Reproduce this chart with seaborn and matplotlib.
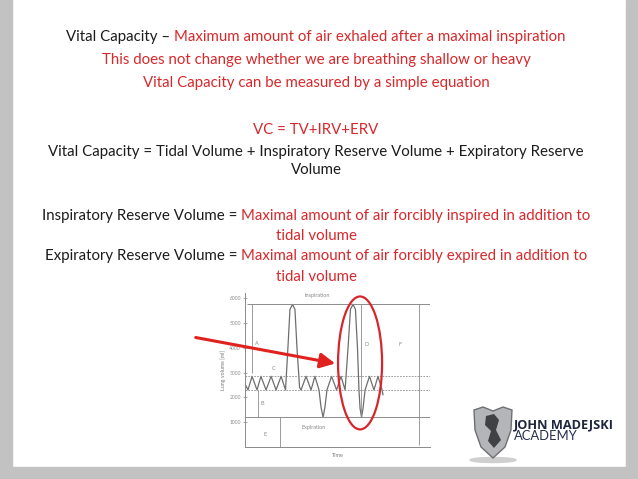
import numpy as np
import matplotlib
matplotlib.use("Agg")
import matplotlib.pyplot as plt
import pandas as pd
import seaborn as sns
from matplotlib.patches import Rectangle, Ellipse, Polygon, FancyArrowPatch

# ---- data ----
# spirometer trace (time in arbitrary units, lung volume in ml)
trace_time = [0.0, 1.6, 3.8, 6.5, 8.6, 11.4, 14.1, 16.8, 19.5, 21.9,
              23.2, 24.3, 25.7, 27.0, 28.1, 29.5,
              30.3, 33.0, 35.7, 37.8, 40.0, 41.1, 42.2, 43.2, 44.3,
              46.8, 49.5, 51.9, 54.1, 55.7, 57.0, 58.4, 59.7, 60.8,
              61.6, 62.2, 63.0, 63.8, 64.9, 67.3, 69.7, 71.9, 74.1, 74.6]
trace_volume = [2550, 2300, 2850, 2300, 2850, 2300, 2850, 2300, 2850, 2300,
                4000, 5550, 5750, 5550, 4000, 2400,
                2300, 2850, 2300, 2850, 2300, 1600, 1200, 1600, 2300,
                2850, 2300, 2850, 2300, 4000, 5550, 5750, 5550, 4000,
                2300, 1550, 1200, 1550, 2300, 2850, 2300, 2850, 2300, 2100]

tidal_top = 2850
tidal_bottom = 2300
max_insp = 5750
max_exp = 1200
ytick_values = [1000, 2000, 3000, 4000, 5000, 6000]

# bracket lines: (time, from volume, to volume)
bracket_lines = [(3.8, 5750, 2980), (6.9, 2300, 1200), (18.9, 1200, 0),
                 (62.7, 5750, 1200), (94.0, 5750, 80)]
letter_labels = ["A", "C", "B", "E", "D", "F"]
letter_time = [6.5, 15.7, 9.2, 10.8, 65.9, 83.8]
letter_volume = [4190, 3150, 1770, 520, 4150, 4150]

BLACK = "#1c1c1c"
RED = "#d8282b"
W, H = 638, 479

# slide text: list of (text, colour) pieces per line, and the line centre y in px
slide_lines = [
    (37, [("Vital Capacity \u2013", BLACK), ("Maximum amount of air exhaled after a maximal inspiration", RED)]),
    (60, [("This does not change whether we are breathing shallow or heavy", RED)]),
    (83, [("Vital Capacity can be measured by a simple equation", RED)]),
    (130, [("VC = TV+IRV+ERV", RED)]),
    (152, [("Vital Capacity = Tidal Volume + Inspiratory Reserve Volume + Expiratory Reserve", BLACK)]),
    (170, [("Volume", BLACK)]),
    (216, [("Inspiratory Reserve Volume =", BLACK), ("Maximal amount of air forcibly inspired in addition to", RED)]),
    (236, [("tidal volume", RED)]),
    (256, [("Expiratory Reserve Volume =", BLACK), ("Maximal amount of air forcibly expired in addition to", RED)]),
    (277, [("tidal volume", RED)]),
]

sns.set_theme(style="white")
plt.rcParams["font.family"] = ["Lato", "DejaVu Sans"]

fig = plt.figure(figsize=(W / 100, H / 100), dpi=100)
fig.patch.set_facecolor("white")


def fx(x):
    return x / W


def fy(y):
    return 1 - y / H


# grey slide frame
frame_col = "#c2c2c2"
fig.patches.append(Rectangle((0, 0), fx(12), 1, transform=fig.transFigure, color=frame_col, zorder=0))
fig.patches.append(Rectangle((fx(626), 0), fx(12), 1, transform=fig.transFigure, color=frame_col, zorder=0))
fig.patches.append(Rectangle((0, 0), 1, fy(467), transform=fig.transFigure, color=frame_col, zorder=0))

# ---- text lines, centred, with coloured pieces ----
renderer = fig.canvas.get_renderer()
FS = 10.8
probe1 = fig.text(0, 0, "x x", fontsize=FS)
probe2 = fig.text(0, 0, "xx", fontsize=FS)
space_w = probe1.get_window_extent(renderer).width - probe2.get_window_extent(renderer).width
probe1.remove()
probe2.remove()

for y_px, pieces in slide_lines:
    texts = []
    widths = []
    for s, c in pieces:
        t = fig.text(0, fy(y_px), s, color=c, fontsize=FS, ha="left", va="center")
        texts.append(t)
        widths.append(t.get_window_extent(renderer).width)
    total = sum(widths) + space_w * (len(pieces) - 1)
    x = 316 - total / 2
    for t, w in zip(texts, widths):
        t.set_x(fx(x))
        x += w + space_w

# ---- spirometer chart ----
ax = fig.add_axes([fx(245), fy(447), fx(430) - fx(245), 6.2 * 24.8 / H])
ax.set_facecolor("none")
trace_df = pd.DataFrame({"time": trace_time, "volume": trace_volume})
sns.lineplot(data=trace_df, x="time", y="volume", sort=False, estimator=None,
             color="#6e6e6e", linewidth=0.9, ax=ax)

line_col = "#8c8c8c"
ax.hlines([tidal_top, tidal_bottom], 0, 100, colors=line_col, linestyles=(0, (2, 1.5)), linewidth=0.6)
ax.hlines(max_insp, 1, 100, colors=line_col, linewidth=0.7)
ax.hlines(max_exp, 0, 100, colors=line_col, linewidth=0.7)
for t, v0, v1 in bracket_lines:
    ax.vlines(t, v1, v0, colors=line_col, linewidth=0.6)
for lab, t, v in zip(letter_labels, letter_time, letter_volume):
    ax.text(t, v, lab, fontsize=4, color="#8a8a8a", ha="center", va="center")
ax.text(39, 6090, "Inspiration", fontsize=4, color="#8a8a8a", ha="center", va="center")
ax.text(37, 780, "Expiration", fontsize=4, color="#8a8a8a", ha="center", va="center")

ax.set_xlim(0, 100)
ax.set_ylim(0, 6200)
ax.set_xticks([])
ax.set_yticks(ytick_values)
ax.set_yticklabels([str(v) for v in ytick_values])
ax.tick_params(axis="y", labelsize=3.6, labelcolor="#8a8a8a", color="#8a8a8a",
               direction="inout", length=3, width=0.5, pad=1.5, left=True)
for side in ["top", "right"]:
    ax.spines[side].set_visible(False)
for side in ["left", "bottom"]:
    ax.spines[side].set_color("#8a8a8a")
    ax.spines[side].set_linewidth(0.7)
ax.set_xlabel("Time", fontsize=4, color="#777777", labelpad=4)
ax.set_ylabel("Lung volume [ml]", fontsize=3.8, color="#777777", labelpad=2)

# red ellipse round the vital capacity manoeuvre
ax.add_patch(Ellipse((62.2, 3390), 23.8, 5360, fill=False, edgecolor="#d7262b",
                     linewidth=1.6, clip_on=False, zorder=5))

# red arrow
fig.patches.append(FancyArrowPatch((fx(193), fy(337)), (fx(338), fy(364)),
                                   transform=fig.transFigure, color="#e0221f",
                                   arrowstyle="-|>,head_length=0.9,head_width=0.45",
                                   mutation_scale=10, linewidth=2.2, zorder=6))

# ---- school logo ----
shield = [(474, 410), (483, 407), (493, 411), (503, 407), (512, 410), (511, 430),
          (505, 447), (493, 458), (481, 447), (475, 430)]
fig.patches.append(Ellipse((fx(493), fy(460)), fx(46), 5 / H, transform=fig.transFigure,
                           color="#cfcfcf", zorder=2))
fig.patches.append(Polygon([(fx(x), fy(y)) for x, y in shield], closed=True,
                           transform=fig.transFigure, facecolor="#b3b5b9",
                           edgecolor="#6d6f73", linewidth=1.0, zorder=3))
lion = [(486, 416), (494, 414), (499, 420), (496, 430), (501, 440), (494, 448),
        (488, 441), (491, 431), (485, 425)]
fig.patches.append(Polygon([(fx(x), fy(y)) for x, y in lion], closed=True,
                           transform=fig.transFigure, facecolor="#3f4145",
                           edgecolor="none", zorder=4))
fig.text(fx(514), fy(425), "JOHN MADEJSKI", fontsize=9.2, fontweight="bold",
         color="#1e2640", ha="left", va="center", family=["Open Sans", "DejaVu Sans"])
fig.text(fx(514), fy(436), "ACADEMY", fontsize=9.4, fontweight="normal",
         color="#26304c", ha="left", va="center", family=["Lato", "DejaVu Sans"])

fig.savefig("out.png", dpi=100)
